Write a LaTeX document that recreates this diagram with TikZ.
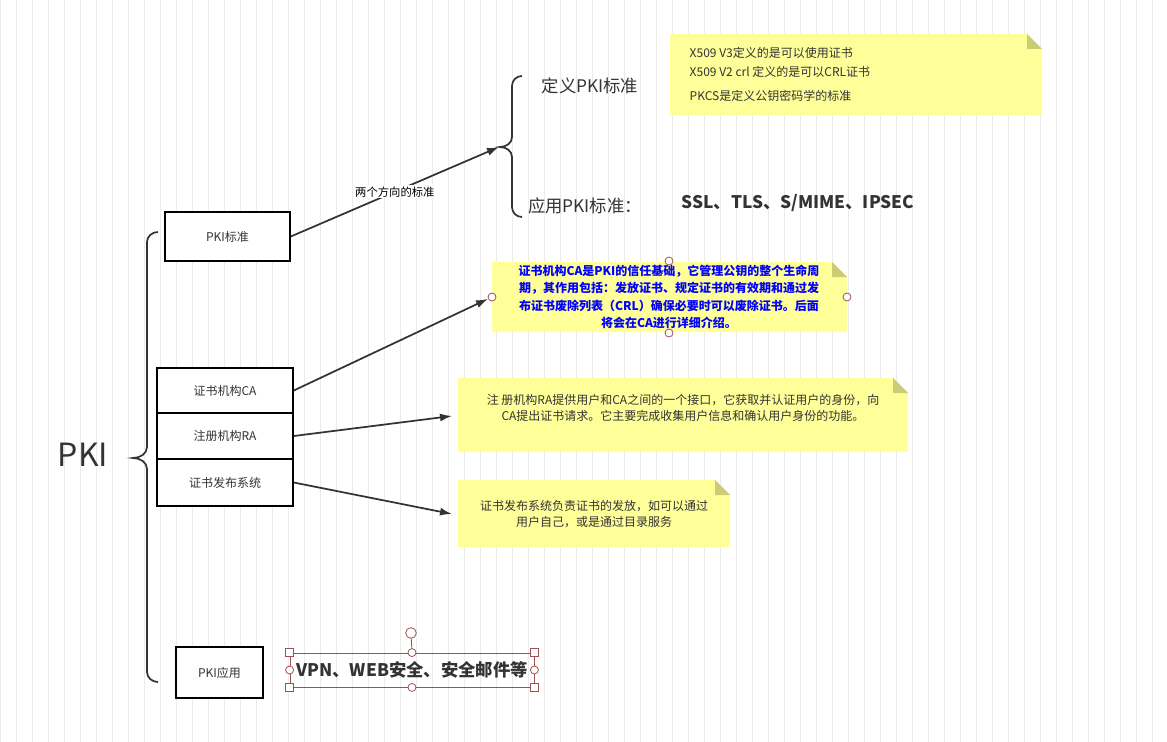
\documentclass[tikz,border=0pt]{standalone}
\usepackage{fontspec}
\setmainfont{Noto Sans CJK SC}
\usetikzlibrary{arrows.meta}
\definecolor{ink}{HTML}{333333}
\definecolor{notey}{HTML}{FFFF99}
\definecolor{fold}{HTML}{CCCC77}
\definecolor{sel}{HTML}{A05050}
\tikzset{
  box/.style={draw=black,line width=1.2pt,fill=white,inner sep=0pt,font=\fontsize{9}{11}\selectfont,text=ink},
  conn/.style={draw=ink,line width=1.3pt,-{Latex[length=9pt,width=6pt]}},
  brace/.style={draw=ink,line width=1.3pt},
  handle/.style={draw=sel,fill=white,circle,inner sep=0pt,minimum size=6pt,line width=0.6pt},
  sq/.style={draw=sel,fill=white,inner sep=0pt,minimum size=6pt,line width=0.6pt}
}
\newcommand{\notebox}[5]{% x1 y1 x2 y2 name
  \fill[notey] (#1,#2) -- (#3-15,#2) -- (#3,#2+15) -- (#3,#4) -- (#1,#4) -- cycle;
  \fill[fold] (#3-15,#2) -- (#3,#2+15) -- (#3-15,#2+15) -- cycle;
  \coordinate (#5) at ({(#1+#3)/2},{(#2+#4)/2});
}
\begin{document}
\begin{tikzpicture}[x=0.75pt,y=-0.75pt]
\useasboundingbox (0,0) rectangle (1167,742);
\fill[white] (0,0) rectangle (1167,742);
\draw[black!8,line width=0.4pt,step=16] (0,0) grid (1167,742);

% main brace
\node[font=\fontsize{24}{28}\selectfont,text=ink] (pki) at (83,455) {PKI};
\draw[brace] (158,232) to[out=180,in=90] (147,242) -- (147,447) to[out=-90,in=0] (133,458) to[out=0,in=90] (147,469) -- (147,672) to[out=-90,in=180] (158,682);

% boxes
\node[box,minimum width=125*0.75pt,minimum height=49*0.75pt] (std) at (227.5,236.5) {PKI标准};
\node[box,minimum width=136*0.75pt,minimum height=45*0.75pt] (ca) at (225,390.5) {证书机构CA};
\node[box,minimum width=136*0.75pt,minimum height=46*0.75pt] (ra) at (225,436) {注册机构RA};
\node[box,minimum width=136*0.75pt,minimum height=47*0.75pt] (pub) at (225,482.5) {证书发布系统};
\node[box,minimum width=87*0.75pt,minimum height=51*0.75pt] (app) at (219.5,672.5) {PKI应用};

% brace 2
\coordinate (b2) at (499,147);
\draw[brace] (522,76) to[out=180,in=90] (512,86) -- (512,137) to[out=-90,in=0] (500,147) to[out=0,in=90] (512,157) -- (512,207) to[out=-90,in=180] (522,217);
\draw[conn] (std.east) -- node[fill=white,inner sep=1pt,font=\fontsize{8.5}{10}\selectfont,text=black,pos=0.5] {两个方向的标准} (b2);

\node[font=\fontsize{13}{15}\selectfont,text=ink] (def) at (590,86) {定义PKI标准};
\node[font=\fontsize{13}{15}\selectfont,text=ink] (use) at (585,206) {应用PKI标准：};
\node[font=\bfseries\fontsize{13}{15}\selectfont,text=ink] (ssl) at (798,203) {SSL、TLS、S/MIME、IPSEC};

% note 1
\notebox{670}{34}{1042}{115}{n1}
\node[anchor=west,font=\fontsize{9}{11}\selectfont,text=ink] (n1a) at (685,53) {X509 V3定义的是可以使用证书};
\node[anchor=west,font=\fontsize{9}{11}\selectfont,text=ink] (n1b) at (685,72) {X509 V2 crl 定义的是可以CRL证书};
\node[anchor=west,font=\fontsize{9}{11}\selectfont,text=ink] (n1c) at (685,96) {PKCS是定义公钥密码学的标准};

% note CA
\notebox{492}{262}{847}{332}{nca}
\node[font=\bfseries\fontsize{9}{13}\selectfont,text=blue,align=center] (ncat) at (669,297) {证书机构CA是PKI的信任基础，它管理公钥的整个生命周\\期，其作用包括：发放证书、规定证书的有效期和通过发\\布证书废除列表（CRL）确保必要时可以废除证书。后面\\将会在CA进行详细介绍。};
\node[handle] (h1) at (669,261) {};
\node[handle] (h2) at (492,297) {};
\node[handle] (h3) at (847,297) {};
\node[handle] (h4) at (669,333) {};
\draw[conn] (ca.east) -- (h2);

% note RA
\notebox{458}{378}{908}{452}{nra}
\node[font=\fontsize{9}{12}\selectfont,text=ink,align=center] (nrat) at (683,408) {注 册机构RA提供用户和CA之间的一个接口，它获取并认证用户的身份，向\\CA提出证书请求。它主要完成收集用户信息和确认用户身份的功能。};
\draw[conn] (ra.east) -- (452,416) coordinate (rae);

% note pub
\notebox{458}{480}{730}{547}{npub}
\node[font=\fontsize{9}{12}\selectfont,text=ink,align=center] (npubt) at (594,514) {证书发布系统负责证书的发放，如可以通过\\用户自己，或是通过目录服务};
\draw[conn] (pub.east) -- (452,514) coordinate (pube);

% VPN selection
\node[draw=sel,line width=0.6pt,minimum width=244*0.75pt,minimum height=34*0.75pt,inner sep=0pt,font=\bfseries\fontsize{13}{15}\selectfont,text=ink] (vpn) at (412,670) {VPN、WEB安全、安全邮件等};
\node[handle,minimum size=8pt] (rot) at (411,633) {};
\draw[sel,line width=0.6pt] (rot) -- (vpn.north);
\foreach \p in {north west,north east,south west,south east} \node[sq] at (vpn.\p) {};
\foreach \p in {north,south,west,east} \node[handle] at (vpn.\p) {};
\end{tikzpicture}
\end{document}
